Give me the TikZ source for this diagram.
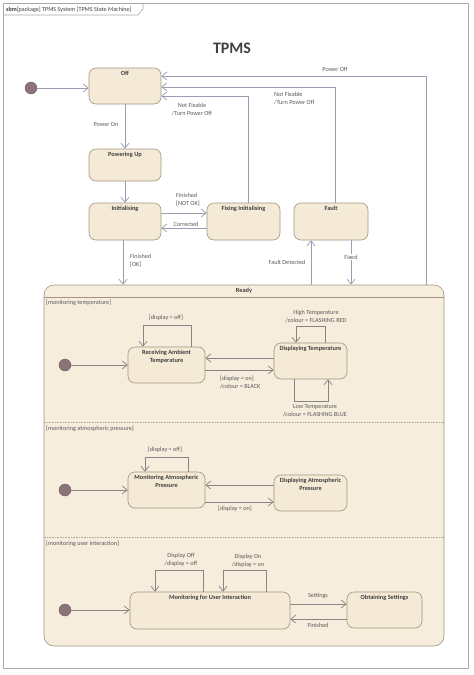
\documentclass[tikz,border=0pt]{standalone}
\usepackage{fontspec}
\setmainfont{Carlito}
\usetikzlibrary{arrows.meta,calc}
\definecolor{statefill}{HTML}{F5EAD6}
\definecolor{regionfill}{HTML}{F6EDDD}
\definecolor{strokec}{HTML}{A39482}
\definecolor{conncol}{HTML}{9C9CB2}
\definecolor{iconncol}{HTML}{8C8484}
\definecolor{txtc}{HTML}{5A5A5A}
\definecolor{dtxtc}{HTML}{404040}
\definecolor{initc}{HTML}{8C7377}
\definecolor{framec}{HTML}{A8A8A8}
\begin{document}
\begin{tikzpicture}[x=1pt,y=-1pt,
 state/.style={draw=strokec, fill=statefill, rounded corners=7pt, line width=0.6pt, inner sep=0pt},
 stl/.style={anchor=north, yshift=-3pt, align=center, font=\bfseries\fontsize{6.3}{7.8}\selectfont, text=dtxtc, inner sep=0pt},
 lbl/.style={font=\fontsize{6.2}{8}\selectfont, text=txtc, inner sep=0pt, align=center},
 initnode/.style={circle, fill=initc, draw=initc!80!black, line width=0.4pt, minimum size=12pt, inner sep=0pt},
 tarrow/.style={draw=conncol, line width=0.7pt, -{Straight Barb[length=5pt,width=8pt]}},
 iarrow/.style={draw=iconncol, line width=0.7pt, -{Straight Barb[length=5pt,width=8pt]}},
]
\fill[white] (0,0) rectangle (474,675);
\useasboundingbox (0,0) rectangle (474,675);

% frame
\draw[framec, line width=0.8pt] (3,3) rectangle (468,668);
\draw[framec, line width=0.6pt] (3,15) -- (138,15) -- (143,9) -- (143,3);
\node[anchor=west, font=\fontsize{6.1}{7}\selectfont, text=dtxtc, inner sep=0pt] (ftitle) at (6,9.5) {\textbf{sbm}[package] TPMS System [TPMS State Machine]};

% title
\node[font=\bfseries\fontsize{16}{18}\selectfont, text=dtxtc] (title) at (232,48) {TPMS};

% top-level states
\node[initnode] (i0) at (31,88) {};
\node[state, minimum width=72pt, minimum height=36pt, label={[stl]north:Off}] (off) at (125,86) {};
\node[state, minimum width=72pt, minimum height=32pt, label={[stl]north:Powering Up}] (pup) at (125,165) {};
\node[state, minimum width=72pt, minimum height=37pt, label={[stl]north:Initialising}] (init) at (125,221.5) {};
\node[state, minimum width=73pt, minimum height=37pt, label={[stl]north:Fixing Initialising}] (fix) at (243.5,221.5) {};
\node[state, minimum width=74pt, minimum height=37pt, label={[stl]north:Fault}] (fault) at (331,221.5) {};

% Ready composite
\node[draw=strokec, fill=regionfill, rounded corners=10pt, line width=0.6pt, minimum width=400pt, minimum height=361pt, inner sep=0pt] (ready) at (244,465.5) {};
\node[font=\bfseries\fontsize{6.3}{7}\selectfont, text=dtxtc] (readyt) at (244,291) {Ready};
\draw[strokec, line width=0.6pt] (ready.west |- 0,297) -- (ready.east |- 0,297);
\draw[strokec!80, line width=0.6pt, densely dotted] (ready.west |- 0,422) -- (ready.east |- 0,422);
\draw[strokec!80, line width=0.6pt, densely dotted] (ready.west |- 0,537) -- (ready.east |- 0,537);
\node[lbl, anchor=west] (r1) at (46,303) {[monitoring temperature]};
\node[lbl, anchor=west] (r2) at (46,429) {[monitoring atmospheric pressure]};
\node[lbl, anchor=west] (r3) at (46,544) {[monitoring user interaction]};

% region 1
\node[initnode] (i1) at (65,365) {};
\node[state, minimum width=77pt, minimum height=36pt, label={[stl]north:Receiving Ambient\\Temperature}] (rat) at (166.5,365) {};
\node[state, minimum width=73pt, minimum height=36pt, label={[stl]north:Displaying Temperature}] (dt) at (310.5,361) {};

% region 2
\node[initnode] (i2) at (65,490) {};
\node[state, minimum width=77pt, minimum height=36pt, label={[stl]north:Monitoring Atmospheric\\Pressure}] (map) at (166.5,490) {};
\node[state, minimum width=73pt, minimum height=36pt, label={[stl]north:Displaying Atmospheric\\Pressure}] (dap) at (310.5,493) {};

% region 3
\node[initnode] (i3) at (65,610) {};
\node[state, minimum width=160pt, minimum height=37pt, label={[stl]north:Monitoring for User Interaction}] (mui) at (210,610.5) {};
\node[state, minimum width=75pt, minimum height=36pt, label={[stl]north:Obtaining Settings}] (obt) at (384.5,610) {};

% top-level transitions
\draw[tarrow] (i0) -- (off.west |- i0);
\draw[tarrow] (ready.north -| 426,0) |- (off.east |- 0,76);
\draw[tarrow] (fault.north -| 335,0) |- (off.east |- 0,87);
\draw[tarrow] (fix.north -| 248,0) |- (off.east |- 0,96);
\draw[tarrow] (off.south) -- (pup.north);
\draw[tarrow] (pup.south) -- (init.north);
\draw[tarrow] (init.east |- 0,213) -- (fix.west |- 0,213);
\draw[tarrow] (fix.west |- 0,228) -- (init.east |- 0,228);
\draw[tarrow] (init.south -| 123,0) -- (ready.north -| 123,0);
\draw[tarrow] (ready.north -| 311,0) -- (fault.south -| 311,0);
\draw[tarrow] (fault.south -| 351,0) -- (ready.north -| 351,0);

\node[lbl] (lpoff) at (335,69) {Power Off};
\node[lbl] (lnf1) at (192,109) {Not Fixable\\/Turn Power Off};
\node[lbl, anchor=west, align=left] (lnf2) at (274,98.5) {Not Fixable\\/Turn Power Off};
\node[lbl] (lpon) at (106,125) {Power On};
\node[lbl, anchor=west, align=left] (lnok) at (176,200) {Finished\\{}[NOT OK]};
\node[lbl] (lcor) at (186,224) {Corrected};
\node[lbl, anchor=west, align=left] (lok) at (130,260.5) {Finished\\{}[OK]};
\node[lbl] (lfd) at (287,262) {Fault Detected};
\node[lbl, fill=white, inner sep=1pt] (lfx) at (351,257) {Fixed};

% region 1 transitions
\draw[iarrow] (i1) -- (rat);
\draw[iarrow] (rat.north -| 191,0) -- ++(0,-21) -| (rat.north -| 143,0);
\draw[iarrow] (dt.west |- 0,358) -- (rat.east |- 0,358);
\draw[iarrow] (rat.east |- 0,370) -- (dt.west |- 0,370);
\draw[iarrow] (dt.north -| 325,0) -- ++(0,-16) -| (dt.north -| 296,0);
\draw[iarrow] (dt.south -| 294,0) -- ++(0,22) -| (dt.south -| 328,0);
\node[lbl] (l1a) at (166,318) {[display = off]};
\node[lbl, anchor=west, align=left] (l1b) at (220,382) {[display = on]\\/colour = BLACK};
\node[lbl] (l1c) at (316,316) {High Temperature\\/colour = FLASHING RED};
\node[lbl] (l1d) at (315,411) {Low Temperature\\/colour = FLASHING BLUE};

% region 2 transitions
\draw[iarrow] (i2) -- (map);
\draw[iarrow] (map.north -| 188,0) -- ++(0,-14) -| (map.north -| 145,0);
\draw[iarrow] (dap.west |- 0,485) -- (map.east |- 0,485);
\draw[iarrow] (map.east |- 0,502) -- (dap.west |- 0,502);
\node[lbl] (l2a) at (165,450) {[display = off]};
\node[lbl] (l2b) at (235,509) {[display = on]};

% region 3 transitions
\draw[iarrow] (i3) -- (mui.west |- i3);
\draw[iarrow] (mui.north -| 203,0) -- ++(0,-21) -| (mui.north -| 155,0);
\draw[iarrow] (mui.north -| 266,0) -- ++(0,-21) -| (mui.north -| 223,0);
\draw[iarrow] (mui.east |- 0,604) -- (obt.west |- 0,604);
\draw[iarrow] (obt.west |- 0,619) -- (mui.east |- 0,619);
\node[lbl] (l3a) at (181,560) {Display Off\\/display = off};
\node[lbl] (l3b) at (248,561) {Display On\\/display = on};
\node[lbl] (l3c) at (318,596) {Settings};
\node[lbl] (l3d) at (318,625) {Finished};
\end{tikzpicture}
\end{document}
